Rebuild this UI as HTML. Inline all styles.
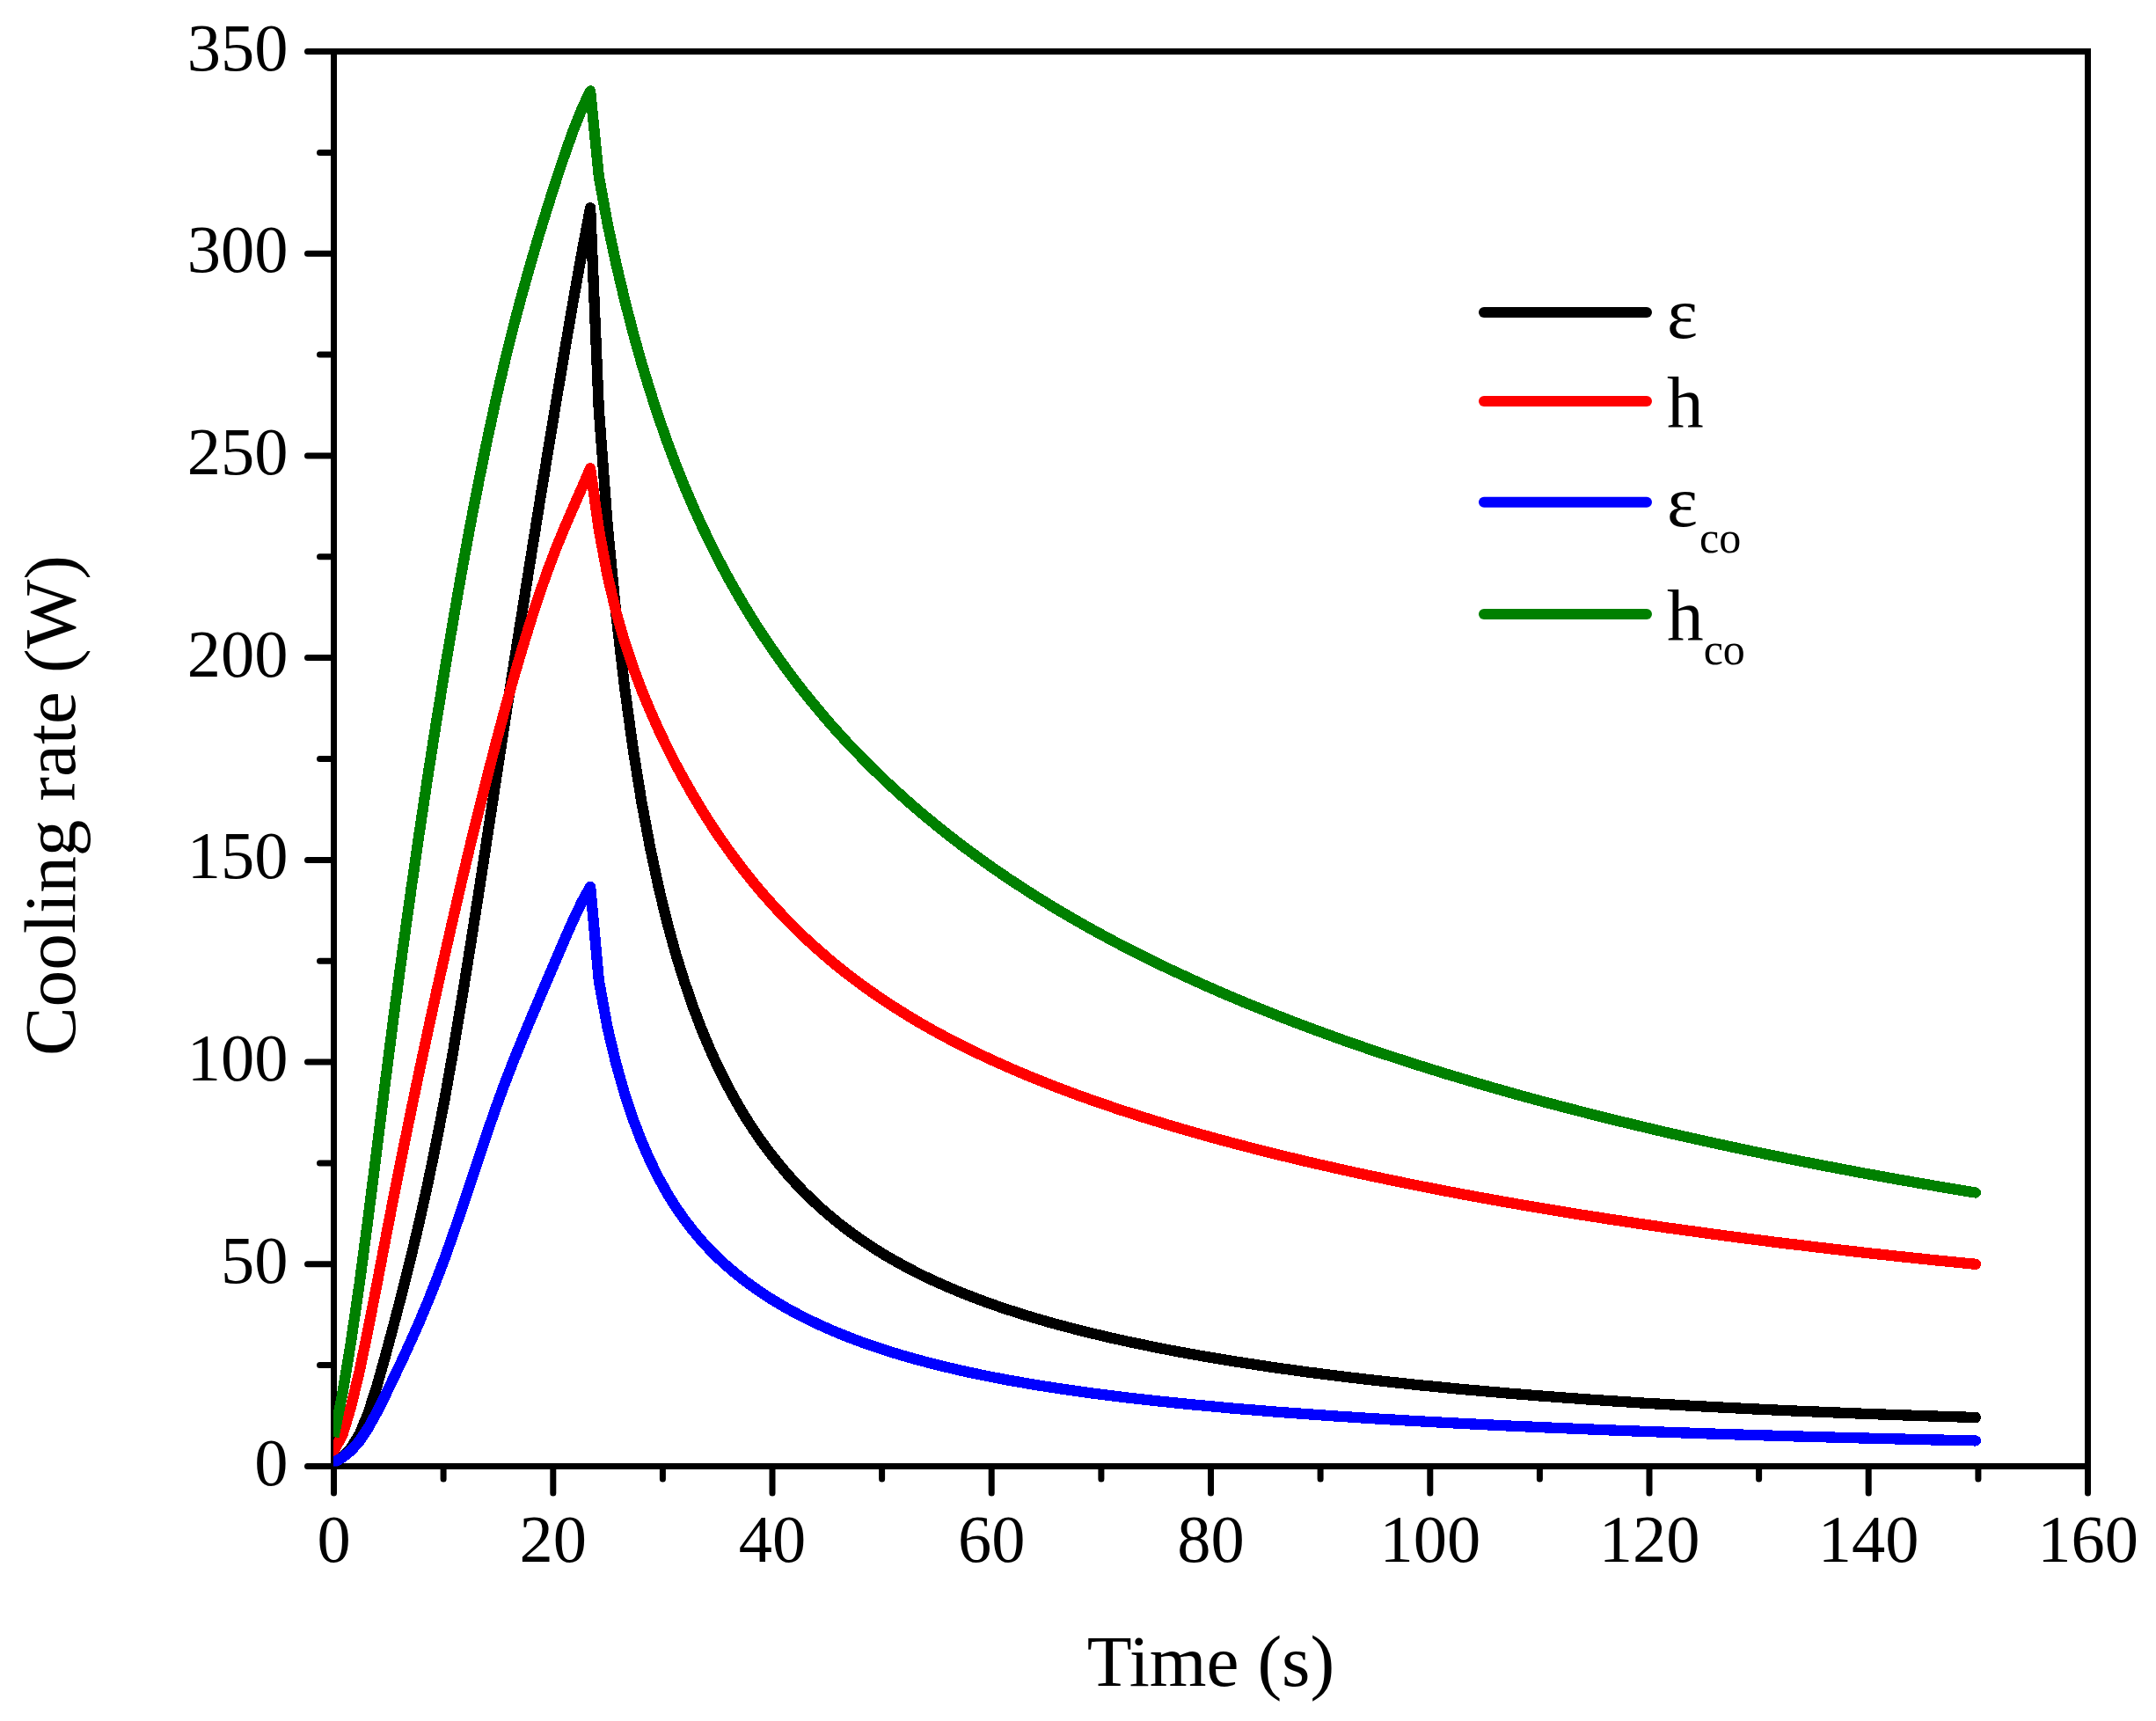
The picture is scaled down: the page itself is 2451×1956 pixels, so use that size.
<!DOCTYPE html>
<html lang="en"><head><meta charset="utf-8"><title>Cooling rate vs time</title>
<style>html,body{margin:0;padding:0;background:#fff}svg{display:block}text{font-family:"Liberation Serif",serif;fill:#000}.tk{font-size:76.5px}.ti{font-size:83.3px}.lg{font-size:83.3px}.sb{font-size:50px}</style></head><body>
<svg width="2451" height="1956" viewBox="0 0 2451 1956">
<rect x="0" y="0" width="2451" height="1956" fill="#fff"/>
<defs><clipPath id="pc"><rect x="379.0" y="58.5" width="1994.5" height="1608.0"/></clipPath></defs>
<g stroke="#000" stroke-width="7" fill="none" shape-rendering="crispEdges">
<rect x="379.5" y="58.5" width="1994.0" height="1608.0"/>
</g>
<g stroke="#000" stroke-width="7" stroke-linecap="round" fill="none">
<line x1="379.5" y1="1666.5" x2="349.5" y2="1666.5"/>
<line x1="379.5" y1="1551.6" x2="363.5" y2="1551.6"/>
<line x1="379.5" y1="1436.8" x2="349.5" y2="1436.8"/>
<line x1="379.5" y1="1321.9" x2="363.5" y2="1321.9"/>
<line x1="379.5" y1="1207.1" x2="349.5" y2="1207.1"/>
<line x1="379.5" y1="1092.2" x2="363.5" y2="1092.2"/>
<line x1="379.5" y1="977.4" x2="349.5" y2="977.4"/>
<line x1="379.5" y1="862.5" x2="363.5" y2="862.5"/>
<line x1="379.5" y1="747.6" x2="349.5" y2="747.6"/>
<line x1="379.5" y1="632.8" x2="363.5" y2="632.8"/>
<line x1="379.5" y1="517.9" x2="349.5" y2="517.9"/>
<line x1="379.5" y1="403.1" x2="363.5" y2="403.1"/>
<line x1="379.5" y1="288.2" x2="349.5" y2="288.2"/>
<line x1="379.5" y1="173.4" x2="363.5" y2="173.4"/>
<line x1="379.5" y1="58.5" x2="349.5" y2="58.5"/>
<line x1="379.5" y1="1666.5" x2="379.5" y2="1697.0"/>
<line x1="504.1" y1="1666.5" x2="504.1" y2="1681.1"/>
<line x1="628.8" y1="1666.5" x2="628.8" y2="1697.0"/>
<line x1="753.4" y1="1666.5" x2="753.4" y2="1681.1"/>
<line x1="878.0" y1="1666.5" x2="878.0" y2="1697.0"/>
<line x1="1002.6" y1="1666.5" x2="1002.6" y2="1681.1"/>
<line x1="1127.2" y1="1666.5" x2="1127.2" y2="1697.0"/>
<line x1="1251.9" y1="1666.5" x2="1251.9" y2="1681.1"/>
<line x1="1376.5" y1="1666.5" x2="1376.5" y2="1697.0"/>
<line x1="1501.1" y1="1666.5" x2="1501.1" y2="1681.1"/>
<line x1="1625.8" y1="1666.5" x2="1625.8" y2="1697.0"/>
<line x1="1750.4" y1="1666.5" x2="1750.4" y2="1681.1"/>
<line x1="1875.0" y1="1666.5" x2="1875.0" y2="1697.0"/>
<line x1="1999.6" y1="1666.5" x2="1999.6" y2="1681.1"/>
<line x1="2124.2" y1="1666.5" x2="2124.2" y2="1697.0"/>
<line x1="2248.9" y1="1666.5" x2="2248.9" y2="1681.1"/>
<line x1="2373.5" y1="1666.5" x2="2373.5" y2="1697.0"/>
</g>
<g clip-path="url(#pc)" fill="none" stroke-width="12.3" stroke-linejoin="round" stroke-linecap="butt" shape-rendering="crispEdges">
<path stroke="#000000" d="M369.8 1672.2 L379.5 1664.2 L389.2 1656.2 L398.9 1645.8 L408.7 1630.1 L418.4 1606.7 L428.1 1576.6 L437.8 1542.2 L447.5 1506.0 L457.3 1468.7 L467.0 1429.8 L476.7 1388.8 L486.4 1345.0 L496.1 1298.0 L505.9 1247.2 L515.6 1192.4 L525.3 1134.2 L535.0 1073.5 L544.8 1011.0 L554.5 947.5 L564.2 883.9 L573.9 820.8 L583.6 758.4 L593.4 696.7 L603.1 635.8 L612.8 575.5 L622.5 515.9 L632.2 456.8 L642.0 398.6 L651.7 342.0 L661.4 287.7 L671.1 236.3 L680.8 465.6 L690.6 596.4 L700.3 697.1 L710.0 780.6 L719.7 851.2 L729.4 911.6 L739.2 963.8 L748.9 1009.2 L758.6 1049.1 L768.3 1084.4 L778.1 1115.9 L787.8 1144.2 L797.5 1169.7 L807.2 1192.9 L816.9 1214.0 L826.7 1233.4 L836.4 1251.2 L846.1 1267.7 L855.8 1282.9 L865.5 1297.0 L875.3 1310.2 L885.0 1322.5 L894.7 1334.0 L904.4 1344.8 L914.1 1354.9 L923.9 1364.4 L933.6 1373.4 L943.3 1381.8 L953.0 1389.8 L962.7 1397.3 L972.5 1404.5 L982.2 1411.2 L991.9 1417.7 L1001.6 1423.8 L1011.3 1429.6 L1021.1 1435.1 L1030.8 1440.4 L1040.5 1445.4 L1050.2 1450.3 L1060.0 1454.9 L1069.7 1459.3 L1079.4 1463.5 L1089.1 1467.6 L1098.8 1471.5 L1108.6 1475.3 L1118.3 1478.9 L1128.0 1482.4 L1137.7 1485.8 L1147.4 1489.0 L1157.2 1492.1 L1166.9 1495.2 L1176.6 1498.1 L1186.3 1500.9 L1196.0 1503.7 L1205.8 1506.3 L1215.5 1508.9 L1225.2 1511.4 L1234.9 1513.9 L1244.6 1516.2 L1254.4 1518.5 L1264.1 1520.8 L1273.8 1522.9 L1283.5 1525.1 L1293.3 1527.1 L1303.0 1529.1 L1312.7 1531.1 L1322.4 1533.0 L1332.1 1534.9 L1341.9 1536.7 L1351.6 1538.5 L1361.3 1540.2 L1371.0 1541.9 L1380.7 1543.6 L1390.5 1545.2 L1400.2 1546.8 L1409.9 1548.3 L1419.6 1549.8 L1429.3 1551.3 L1439.1 1552.8 L1448.8 1554.2 L1458.5 1555.6 L1468.2 1556.9 L1477.9 1558.3 L1487.7 1559.6 L1497.4 1560.8 L1507.1 1562.1 L1516.8 1563.3 L1526.5 1564.5 L1536.3 1565.7 L1546.0 1566.8 L1555.7 1568.0 L1565.4 1569.1 L1575.2 1570.1 L1584.9 1571.2 L1594.6 1572.2 L1604.3 1573.3 L1614.0 1574.3 L1623.8 1575.2 L1633.5 1576.2 L1643.2 1577.1 L1652.9 1578.1 L1662.6 1579.0 L1672.4 1579.9 L1682.1 1580.7 L1691.8 1581.6 L1701.5 1582.4 L1711.2 1583.3 L1721.0 1584.1 L1730.7 1584.8 L1740.4 1585.6 L1750.1 1586.4 L1759.8 1587.1 L1769.6 1587.9 L1779.3 1588.6 L1789.0 1589.3 L1798.7 1590.0 L1808.5 1590.7 L1818.2 1591.3 L1827.9 1592.0 L1837.6 1592.6 L1847.3 1593.2 L1857.1 1593.9 L1866.8 1594.5 L1876.5 1595.1 L1886.2 1595.6 L1895.9 1596.2 L1905.7 1596.8 L1915.4 1597.3 L1925.1 1597.9 L1934.8 1598.4 L1944.5 1598.9 L1954.3 1599.4 L1964.0 1599.9 L1973.7 1600.4 L1983.4 1600.9 L1993.1 1601.4 L2002.9 1601.8 L2012.6 1602.3 L2022.3 1602.7 L2032.0 1603.2 L2041.7 1603.6 L2051.5 1604.0 L2061.2 1604.4 L2070.9 1604.8 L2080.6 1605.2 L2090.4 1605.6 L2100.1 1606.0 L2109.8 1606.4 L2119.5 1606.8 L2129.2 1607.1 L2139.0 1607.5 L2148.7 1607.8 L2158.4 1608.2 L2168.1 1608.5 L2177.8 1608.8 L2187.6 1609.2 L2197.3 1609.5 L2207.0 1609.8 L2216.7 1610.1 L2226.4 1610.4 L2236.2 1610.7 L2245.9 1611.0"/>
<circle cx="2245.9" cy="1611.0" r="6.15" fill="#000000" stroke="none"/>
<path stroke="#ff0000" d="M369.8 1666.9 L379.5 1649.1 L389.2 1631.2 L398.9 1599.5 L408.7 1558.2 L418.4 1511.4 L428.1 1461.6 L437.8 1410.8 L447.5 1360.5 L457.3 1311.6 L467.0 1263.9 L476.7 1217.4 L486.4 1172.1 L496.1 1127.7 L505.9 1084.2 L515.6 1041.5 L525.3 999.7 L535.0 958.9 L544.8 919.2 L554.5 880.5 L564.2 842.9 L573.9 806.6 L583.6 771.6 L593.4 738.2 L603.1 706.4 L612.8 676.6 L622.5 648.7 L632.2 623.0 L642.0 599.3 L651.7 576.8 L661.4 554.7 L671.1 532.2 L680.8 602.0 L690.6 654.1 L700.3 695.2 L710.0 729.1 L719.7 758.3 L729.4 784.3 L739.2 807.8 L748.9 829.6 L758.6 849.8 L768.3 868.9 L778.1 886.8 L787.8 903.9 L797.5 920.0 L807.2 935.4 L816.9 950.1 L826.7 964.0 L836.4 977.3 L846.1 990.0 L855.8 1002.2 L865.5 1013.8 L875.3 1024.9 L885.0 1035.5 L894.7 1045.7 L904.4 1055.5 L914.1 1064.9 L923.9 1073.9 L933.6 1082.5 L943.3 1090.9 L953.0 1098.9 L962.7 1106.6 L972.5 1114.0 L982.2 1121.2 L991.9 1128.1 L1001.6 1134.8 L1011.3 1141.3 L1021.1 1147.5 L1030.8 1153.5 L1040.5 1159.4 L1050.2 1165.1 L1060.0 1170.6 L1069.7 1175.9 L1079.4 1181.1 L1089.1 1186.1 L1098.8 1191.0 L1108.6 1195.8 L1118.3 1200.4 L1128.0 1204.9 L1137.7 1209.3 L1147.4 1213.6 L1157.2 1217.8 L1166.9 1221.9 L1176.6 1225.9 L1186.3 1229.8 L1196.0 1233.6 L1205.8 1237.4 L1215.5 1241.0 L1225.2 1244.6 L1234.9 1248.1 L1244.6 1251.5 L1254.4 1254.9 L1264.1 1258.2 L1273.8 1261.5 L1283.5 1264.6 L1293.3 1267.8 L1303.0 1270.8 L1312.7 1273.8 L1322.4 1276.8 L1332.1 1279.7 L1341.9 1282.6 L1351.6 1285.4 L1361.3 1288.2 L1371.0 1290.9 L1380.7 1293.6 L1390.5 1296.2 L1400.2 1298.8 L1409.9 1301.4 L1419.6 1303.9 L1429.3 1306.4 L1439.1 1308.9 L1448.8 1311.3 L1458.5 1313.7 L1468.2 1316.0 L1477.9 1318.4 L1487.7 1320.7 L1497.4 1322.9 L1507.1 1325.1 L1516.8 1327.3 L1526.5 1329.5 L1536.3 1331.7 L1546.0 1333.8 L1555.7 1335.9 L1565.4 1337.9 L1575.2 1340.0 L1584.9 1342.0 L1594.6 1344.0 L1604.3 1346.0 L1614.0 1347.9 L1623.8 1349.8 L1633.5 1351.7 L1643.2 1353.6 L1652.9 1355.4 L1662.6 1357.3 L1672.4 1359.1 L1682.1 1360.9 L1691.8 1362.6 L1701.5 1364.4 L1711.2 1366.1 L1721.0 1367.8 L1730.7 1369.5 L1740.4 1371.2 L1750.1 1372.8 L1759.8 1374.4 L1769.6 1376.1 L1779.3 1377.6 L1789.0 1379.2 L1798.7 1380.8 L1808.5 1382.3 L1818.2 1383.8 L1827.9 1385.4 L1837.6 1386.8 L1847.3 1388.3 L1857.1 1389.8 L1866.8 1391.2 L1876.5 1392.6 L1886.2 1394.1 L1895.9 1395.5 L1905.7 1396.8 L1915.4 1398.2 L1925.1 1399.5 L1934.8 1400.9 L1944.5 1402.2 L1954.3 1403.5 L1964.0 1404.8 L1973.7 1406.1 L1983.4 1407.3 L1993.1 1408.6 L2002.9 1409.8 L2012.6 1411.1 L2022.3 1412.3 L2032.0 1413.5 L2041.7 1414.6 L2051.5 1415.8 L2061.2 1417.0 L2070.9 1418.1 L2080.6 1419.3 L2090.4 1420.4 L2100.1 1421.5 L2109.8 1422.6 L2119.5 1423.7 L2129.2 1424.8 L2139.0 1425.8 L2148.7 1426.9 L2158.4 1427.9 L2168.1 1428.9 L2177.8 1430.0 L2187.6 1431.0 L2197.3 1432.0 L2207.0 1433.0 L2216.7 1433.9 L2226.4 1434.9 L2236.2 1435.9 L2245.9 1436.8"/>
<circle cx="2245.9" cy="1436.8" r="6.15" fill="#ff0000" stroke="none"/>
<path stroke="#0000ff" d="M369.8 1667.2 L379.5 1661.9 L389.2 1656.6 L398.9 1648.8 L408.7 1637.8 L418.4 1623.2 L428.1 1605.7 L437.8 1586.3 L447.5 1566.1 L457.3 1545.6 L467.0 1524.4 L476.7 1502.5 L486.4 1479.4 L496.1 1455.0 L505.9 1429.1 L515.6 1401.6 L525.3 1373.0 L535.0 1343.8 L544.8 1314.5 L554.5 1285.6 L564.2 1257.7 L573.9 1231.2 L583.6 1206.1 L593.4 1182.0 L603.1 1158.7 L612.8 1135.8 L622.5 1113.1 L632.2 1090.3 L642.0 1067.5 L651.7 1045.6 L661.4 1025.3 L671.1 1007.7 L680.8 1114.4 L690.6 1168.0 L700.3 1208.6 L710.0 1242.6 L719.7 1271.9 L729.4 1297.3 L739.2 1319.6 L748.9 1339.1 L758.6 1356.5 L768.3 1372.0 L778.1 1386.0 L787.8 1398.6 L797.5 1410.1 L807.2 1420.6 L816.9 1430.3 L826.7 1439.2 L836.4 1447.5 L846.1 1455.2 L855.8 1462.3 L865.5 1469.1 L875.3 1475.4 L885.0 1481.4 L894.7 1487.0 L904.4 1492.3 L914.1 1497.4 L923.9 1502.1 L933.6 1506.7 L943.3 1511.0 L953.0 1515.1 L962.7 1519.0 L972.5 1522.8 L982.2 1526.3 L991.9 1529.7 L1001.6 1533.0 L1011.3 1536.1 L1021.1 1539.1 L1030.8 1542.0 L1040.5 1544.7 L1050.2 1547.3 L1060.0 1549.9 L1069.7 1552.3 L1079.4 1554.6 L1089.1 1556.9 L1098.8 1559.1 L1108.6 1561.1 L1118.3 1563.2 L1128.0 1565.1 L1137.7 1567.0 L1147.4 1568.8 L1157.2 1570.5 L1166.9 1572.2 L1176.6 1573.8 L1186.3 1575.4 L1196.0 1576.9 L1205.8 1578.4 L1215.5 1579.8 L1225.2 1581.2 L1234.9 1582.6 L1244.6 1583.9 L1254.4 1585.1 L1264.1 1586.3 L1273.8 1587.5 L1283.5 1588.7 L1293.3 1589.8 L1303.0 1590.9 L1312.7 1592.0 L1322.4 1593.0 L1332.1 1594.0 L1341.9 1595.0 L1351.6 1596.0 L1361.3 1596.9 L1371.0 1597.8 L1380.7 1598.7 L1390.5 1599.6 L1400.2 1600.5 L1409.9 1601.3 L1419.6 1602.1 L1429.3 1602.9 L1439.1 1603.7 L1448.8 1604.5 L1458.5 1605.2 L1468.2 1605.9 L1477.9 1606.6 L1487.7 1607.3 L1497.4 1608.0 L1507.1 1608.7 L1516.8 1609.4 L1526.5 1610.0 L1536.3 1610.6 L1546.0 1611.3 L1555.7 1611.9 L1565.4 1612.5 L1575.2 1613.1 L1584.9 1613.6 L1594.6 1614.2 L1604.3 1614.8 L1614.0 1615.3 L1623.8 1615.9 L1633.5 1616.4 L1643.2 1616.9 L1652.9 1617.4 L1662.6 1617.9 L1672.4 1618.4 L1682.1 1618.9 L1691.8 1619.4 L1701.5 1619.8 L1711.2 1620.3 L1721.0 1620.8 L1730.7 1621.2 L1740.4 1621.6 L1750.1 1622.1 L1759.8 1622.5 L1769.6 1622.9 L1779.3 1623.3 L1789.0 1623.7 L1798.7 1624.1 L1808.5 1624.5 L1818.2 1624.9 L1827.9 1625.3 L1837.6 1625.7 L1847.3 1626.1 L1857.1 1626.4 L1866.8 1626.8 L1876.5 1627.1 L1886.2 1627.5 L1895.9 1627.8 L1905.7 1628.2 L1915.4 1628.5 L1925.1 1628.8 L1934.8 1629.2 L1944.5 1629.5 L1954.3 1629.8 L1964.0 1630.1 L1973.7 1630.4 L1983.4 1630.7 L1993.1 1631.0 L2002.9 1631.3 L2012.6 1631.6 L2022.3 1631.9 L2032.0 1632.2 L2041.7 1632.4 L2051.5 1632.7 L2061.2 1633.0 L2070.9 1633.2 L2080.6 1633.5 L2090.4 1633.8 L2100.1 1634.0 L2109.8 1634.3 L2119.5 1634.5 L2129.2 1634.8 L2139.0 1635.0 L2148.7 1635.2 L2158.4 1635.5 L2168.1 1635.7 L2177.8 1635.9 L2187.6 1636.2 L2197.3 1636.4 L2207.0 1636.6 L2216.7 1636.8 L2226.4 1637.0 L2236.2 1637.2 L2245.9 1637.4"/>
<circle cx="2245.9" cy="1637.4" r="6.15" fill="#0000ff" stroke="none"/>
<path stroke="#008000" d="M379.5 1633.0 L389.2 1584.5 L398.9 1525.7 L408.7 1458.7 L418.4 1385.6 L428.1 1308.9 L437.8 1231.5 L447.5 1155.9 L457.3 1083.3 L467.0 1013.5 L476.7 946.5 L486.4 882.0 L496.1 820.0 L505.9 760.3 L515.6 702.8 L525.3 647.6 L535.0 594.8 L544.8 544.6 L554.5 497.1 L564.2 452.4 L573.9 410.6 L583.6 371.5 L593.4 334.7 L603.1 300.1 L612.8 267.1 L622.5 235.5 L632.2 205.0 L642.0 175.6 L651.7 148.4 L661.4 124.0 L671.1 103.5 L680.8 200.5 L690.6 254.0 L700.3 299.3 L710.0 340.4 L719.7 378.1 L729.4 412.8 L739.2 444.9 L748.9 474.7 L758.6 502.4 L768.3 528.3 L778.1 552.6 L787.8 575.4 L797.5 596.8 L807.2 617.1 L816.9 636.3 L826.7 654.6 L836.4 671.9 L846.1 688.5 L855.8 704.3 L865.5 719.5 L875.3 734.0 L885.0 748.0 L894.7 761.4 L904.4 774.4 L914.1 786.9 L923.9 798.9 L933.6 810.6 L943.3 821.9 L953.0 832.8 L962.7 843.4 L972.5 853.6 L982.2 863.6 L991.9 873.3 L1001.6 882.8 L1011.3 891.9 L1021.1 900.9 L1030.8 909.6 L1040.5 918.1 L1050.2 926.3 L1060.0 934.4 L1069.7 942.3 L1079.4 950.0 L1089.1 957.5 L1098.8 964.8 L1108.6 972.0 L1118.3 979.0 L1128.0 985.9 L1137.7 992.6 L1147.4 999.2 L1157.2 1005.6 L1166.9 1011.9 L1176.6 1018.1 L1186.3 1024.1 L1196.0 1030.1 L1205.8 1035.9 L1215.5 1041.6 L1225.2 1047.2 L1234.9 1052.7 L1244.6 1058.1 L1254.4 1063.4 L1264.1 1068.6 L1273.8 1073.8 L1283.5 1078.8 L1293.3 1083.7 L1303.0 1088.6 L1312.7 1093.4 L1322.4 1098.1 L1332.1 1102.7 L1341.9 1107.2 L1351.6 1111.7 L1361.3 1116.1 L1371.0 1120.5 L1380.7 1124.7 L1390.5 1129.0 L1400.2 1133.1 L1409.9 1137.2 L1419.6 1141.2 L1429.3 1145.2 L1439.1 1149.1 L1448.8 1152.9 L1458.5 1156.7 L1468.2 1160.5 L1477.9 1164.2 L1487.7 1167.8 L1497.4 1171.4 L1507.1 1175.0 L1516.8 1178.5 L1526.5 1182.0 L1536.3 1185.4 L1546.0 1188.8 L1555.7 1192.1 L1565.4 1195.4 L1575.2 1198.6 L1584.9 1201.8 L1594.6 1205.0 L1604.3 1208.1 L1614.0 1211.2 L1623.8 1214.3 L1633.5 1217.3 L1643.2 1220.3 L1652.9 1223.2 L1662.6 1226.1 L1672.4 1229.0 L1682.1 1231.9 L1691.8 1234.7 L1701.5 1237.5 L1711.2 1240.2 L1721.0 1243.0 L1730.7 1245.7 L1740.4 1248.3 L1750.1 1251.0 L1759.8 1253.6 L1769.6 1256.1 L1779.3 1258.7 L1789.0 1261.2 L1798.7 1263.7 L1808.5 1266.2 L1818.2 1268.7 L1827.9 1271.1 L1837.6 1273.5 L1847.3 1275.8 L1857.1 1278.2 L1866.8 1280.5 L1876.5 1282.8 L1886.2 1285.1 L1895.9 1287.4 L1905.7 1289.6 L1915.4 1291.8 L1925.1 1294.0 L1934.8 1296.1 L1944.5 1298.3 L1954.3 1300.4 L1964.0 1302.5 L1973.7 1304.6 L1983.4 1306.7 L1993.1 1308.7 L2002.9 1310.7 L2012.6 1312.7 L2022.3 1314.7 L2032.0 1316.7 L2041.7 1318.6 L2051.5 1320.6 L2061.2 1322.5 L2070.9 1324.4 L2080.6 1326.2 L2090.4 1328.1 L2100.1 1329.9 L2109.8 1331.8 L2119.5 1333.6 L2129.2 1335.3 L2139.0 1337.1 L2148.7 1338.9 L2158.4 1340.6 L2168.1 1342.3 L2177.8 1344.0 L2187.6 1345.7 L2197.3 1347.4 L2207.0 1349.1 L2216.7 1350.7 L2226.4 1352.3 L2236.2 1353.9 L2245.9 1355.5"/>
<circle cx="2245.9" cy="1355.5" r="6.15" fill="#008000" stroke="none"/>
</g>
<g class="tk" text-anchor="end">
<text x="327.5" y="1687.5">0</text>
<text x="327.5" y="1457.8">50</text>
<text x="327.5" y="1228.1">100</text>
<text x="327.5" y="998.4">150</text>
<text x="327.5" y="768.6">200</text>
<text x="327.5" y="538.9">250</text>
<text x="327.5" y="309.2">300</text>
<text x="327.5" y="79.5">350</text>
</g>
<g class="tk" text-anchor="middle">
<text x="379.5" y="1774.5">0</text>
<text x="628.8" y="1774.5">20</text>
<text x="878.0" y="1774.5">40</text>
<text x="1127.2" y="1774.5">60</text>
<text x="1376.5" y="1774.5">80</text>
<text x="1625.8" y="1774.5">100</text>
<text x="1875.0" y="1774.5">120</text>
<text x="2124.2" y="1774.5">140</text>
<text x="2373.5" y="1774.5">160</text>
</g>
<text class="ti" text-anchor="middle" x="1376.5" y="1916">Time (s)</text>
<text class="ti" text-anchor="middle" transform="translate(85 915.5) rotate(-90)">Cooling rate (W)</text>
<g stroke-width="12" stroke-linecap="round" fill="none">
<line x1="1687" y1="355.0" x2="1872" y2="355.0" stroke="#000000"/>
<line x1="1687" y1="456.0" x2="1872" y2="456.0" stroke="#ff0000"/>
<line x1="1687" y1="570.7" x2="1872" y2="570.7" stroke="#0000ff"/>
<line x1="1687" y1="698.0" x2="1872" y2="698.0" stroke="#008000"/>
</g>
<text class="lg" x="1895" y="383.5">ε</text>
<text class="lg" x="1895" y="484.5">h</text>
<text class="lg" x="1895" y="598">ε<tspan class="sb" dx="2" dy="29.5">co</tspan></text>
<text class="lg" x="1895" y="727">h<tspan class="sb" dy="28">co</tspan></text>
</svg></body></html>
